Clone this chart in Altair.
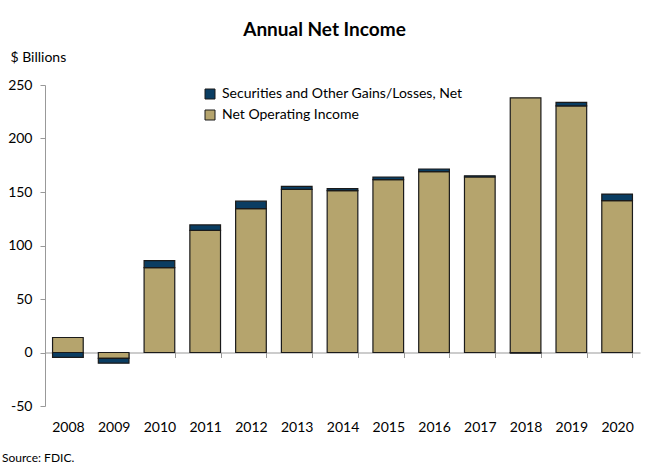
import altair as alt
import pandas as pd

# Annual net income, $ billions
years = ["2008", "2009", "2010", "2011", "2012", "2013", "2014",
         "2015", "2016", "2017", "2018", "2019", "2020"]
net_operating_income = [14.0, -5.5, 79.3, 114.2, 134.5, 152.4, 151.2,
                        161.5, 169.0, 164.0, 238.0, 230.4, 142.0]
securities_gains = [-4.5, -4.5, 6.5, 5.0, 6.9, 2.9, 2.0,
                    2.5, 2.5, 1.2, -0.6, 3.4, 6.1]

series_names = ["Securities and Other Gains/Losses, Net", "Net Operating Income"]
series_colors = ["#0a3d62", "#b5a46d"]

rows = []
for y, noi, sec in zip(years, net_operating_income, securities_gains):
    rows.append({"year": y, "series": series_names[1], "value": noi, "order": 0})
    rows.append({"year": y, "series": series_names[0], "value": sec, "order": 1})
df = pd.DataFrame(rows)

W, H = 595, 321
font = "Lato"

bars = alt.Chart(df).mark_bar(stroke="#1a1a1a", strokeWidth=1.2).encode(
    x=alt.X("year:N", sort=years,
            scale=alt.Scale(paddingInner=0.33, paddingOuter=0.165),
            axis=alt.Axis(title=None, orient="bottom", offset=-H * 50 / 300,
                          tickBand="extent", tickSize=5, tickColor="#999999",
                          domainColor="#999999", labelPadding=63, labelAngle=0,
                          labelFontSize=14, labelColor="#000000", labelFont=font)),
    y=alt.Y("value:Q", stack="zero",
            scale=alt.Scale(domain=[-50, 250], nice=False, zero=False),
            axis=alt.Axis(values=[-50, 0, 50, 100, 150, 200, 250], grid=False,
                          labelExpr="datum.value < 0 ? '-' + abs(datum.value) : '' + datum.value",
                          tickSize=5, tickColor="#999999", domainColor="#999999",
                          labelPadding=8, labelFontSize=14, labelColor="#000000",
                          labelFont=font, title="$ Billions", titleAngle=0,
                          titleAlign="left", titleBaseline="middle",
                          titleX=-35, titleY=-28, titleFontSize=14,
                          titleFontWeight="normal", titleFont=font,
                          titleColor="#000000")),
    color=alt.Color("series:N",
                    scale=alt.Scale(domain=series_names, range=series_colors),
                    legend=alt.Legend(title=None, orient="none", legendX=158,
                                      legendY=2, symbolType="square",
                                      symbolSize=100, symbolStrokeColor="#1a1a1a",
                                      symbolStrokeWidth=1, labelFontSize=14,
                                      labelFont=font, labelColor="#000000",
                                      labelLimit=0, rowPadding=7, labelOffset=5)),
    order=alt.Order("order:Q"),
)

source = alt.Chart(pd.DataFrame({"t": ["Source: FDIC."]})).mark_text(
    align="left", baseline="middle", fontSize=12, font=font, color="#000000"
).encode(text="t:N", x=alt.value(-43), y=alt.value(H + 52))

chart = alt.layer(bars, source).properties(
    width=W, height=H,
    title=alt.TitleParams("Annual Net Income", fontSize=19, fontWeight="bold",
                          font=font, color="#000000", anchor="middle",
                          dx=-18, offset=10),
    autosize=alt.AutoSizeParams(type="none"),
    padding={"left": 45, "top": 85, "right": 10, "bottom": 66},
).configure_view(stroke=None)

chart.save("out.html", embed_options={"renderer": "svg", "actions": False})
